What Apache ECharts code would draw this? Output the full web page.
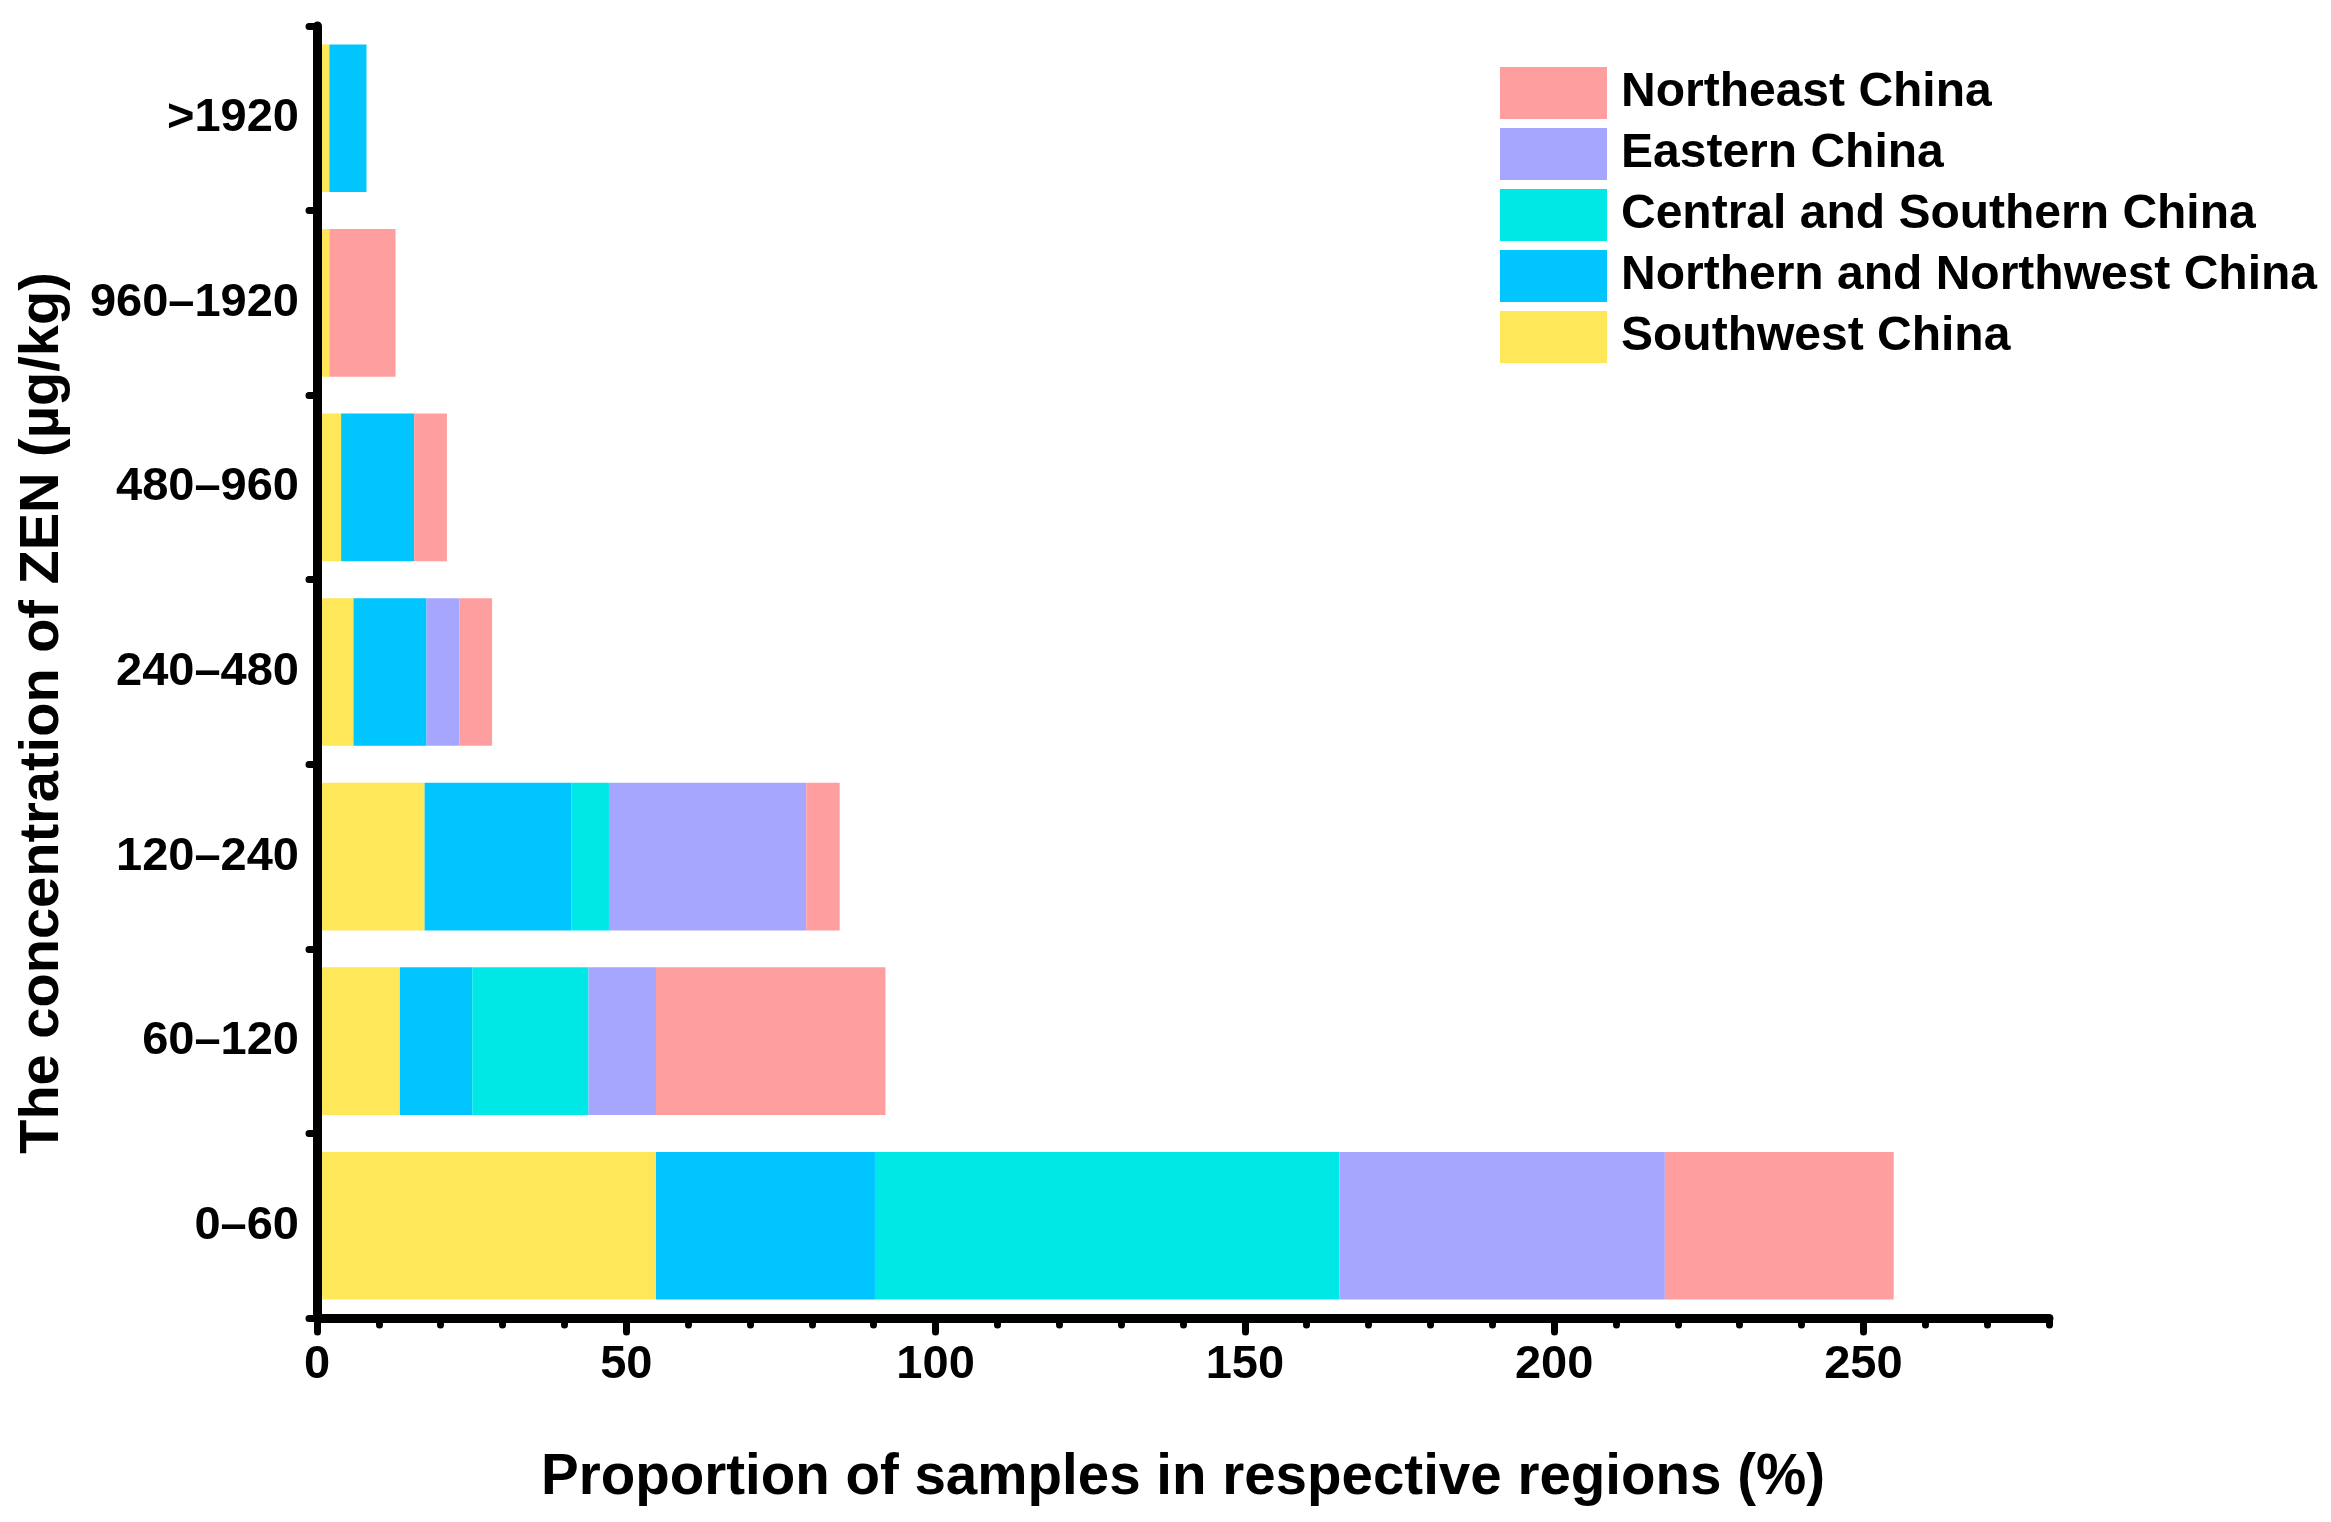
<!DOCTYPE html>
<html>
<head>
<meta charset="utf-8">
<script src="https://cdn.jsdelivr.net/npm/echarts@6/dist/echarts.min.js"></script>
<style>
  html, body { margin: 0; padding: 0; background: #fff; }
  #chart { width: 2331px; height: 1522px; }
</style>
</head>
<body>
<div id="chart"></div>
<script>
const categories = ['0–60', '60–120', '120–240', '240–480', '480–960', '960–1920', '>1920'];
const southwest = [54.8, 13.4, 17.4, 5.9, 3.9, 2.0, 2.0];
const northernNorthwest = [35.4, 11.7, 23.7, 11.8, 11.8, 0, 6.0];
const centralSouthern = [75.1, 18.8, 6.1, 0, 0, 0, 0];
const eastern = [52.6, 10.9, 31.9, 5.3, 0, 0, 0];
const northeast = [37.0, 37.1, 5.4, 5.3, 5.3, 10.7, 0];
const majorTicks = [0, 50, 100, 150, 200, 250];

const font = 'Liberation Sans';

function barSeries(name, data, color) {
    return {
        name: name,
        type: 'bar',
        stack: 'total',
        barCategoryGap: '20%',
        itemStyle: { color: color },
        data: data
    };
}

const option = {
    backgroundColor: '#fff',
    animation: false,
    grid: { left: 317, right: 282, top: 26, bottom: 204 },
    legend: {
        orient: 'vertical',
        left: 1495,
        top: 62,
        icon: 'rect',
        itemWidth: 107,
        itemHeight: 52,
        itemGap: 9,
        textStyle: {
            fontFamily: font,
            fontWeight: 'bold',
            fontSize: 48,
            color: '#000',
            padding: [0, 0, 0, 9]
        },
        data: ['Northeast China', 'Eastern China', 'Central and Southern China',
               'Northern and Northwest China', 'Southwest China']
    },
    xAxis: [
        {
            type: 'value',
            min: 0,
            max: 280,
            interval: 50,
            z: 5,
            name: 'Proportion of samples in respective regions (%)',
            nameLocation: 'middle',
            nameGap: 132,
            nameTextStyle: { fontFamily: font, fontWeight: 'bold', fontSize: 56.5, color: '#000' },
            splitLine: { show: false },
            axisLine: { show: true, lineStyle: { color: '#000', width: 9, cap: 'round' } },
            axisTick: {
                show: true,
                length: 14,
                customValues: majorTicks,
                lineStyle: { color: '#000', width: 7, cap: 'round' }
            },
            axisLabel: {
                customValues: majorTicks,
                margin: 24,
                fontFamily: font,
                fontWeight: 'bold',
                fontSize: 47,
                color: '#000'
            }
        },
        {
            type: 'value',
            position: 'bottom',
            min: 0,
            max: 280,
            interval: 10,
            z: 5,
            splitLine: { show: false },
            axisLine: { show: false },
            axisTick: { show: true, length: 7, lineStyle: { color: '#000', width: 7, cap: 'round' } },
            axisLabel: { show: false }
        }
    ],
    yAxis: {
        type: 'category',
        data: categories,
        z: 5,
        name: 'The concentration of ZEN (µg/kg)',
        nameLocation: 'middle',
        nameGap: 246,
        nameTextStyle: {
            fontFamily: font,
            fontWeight: 'bold',
            fontSize: 56,
            color: '#000',
            padding: [0, 82, 0, 0]
        },
        axisLine: { show: true, lineStyle: { color: '#000', width: 9, cap: 'round' } },
        axisTick: { show: true, length: 8, lineStyle: { color: '#000', width: 7, cap: 'round' } },
        axisLabel: {
            margin: 18,
            fontFamily: font,
            fontWeight: 'bold',
            fontSize: 47,
            color: '#000'
        }
    },
    series: [
        barSeries('Southwest China', southwest, '#FFE75A'),
        barSeries('Northern and Northwest China', northernNorthwest, '#00C5FF'),
        barSeries('Central and Southern China', centralSouthern, '#00E8E6'),
        barSeries('Eastern China', eastern, '#A6A6FF'),
        barSeries('Northeast China', northeast, '#FF9E9E')
    ]
};

const myChart = echarts.init(document.getElementById('chart'));
myChart.setOption(option);
</script>
</body>
</html>
